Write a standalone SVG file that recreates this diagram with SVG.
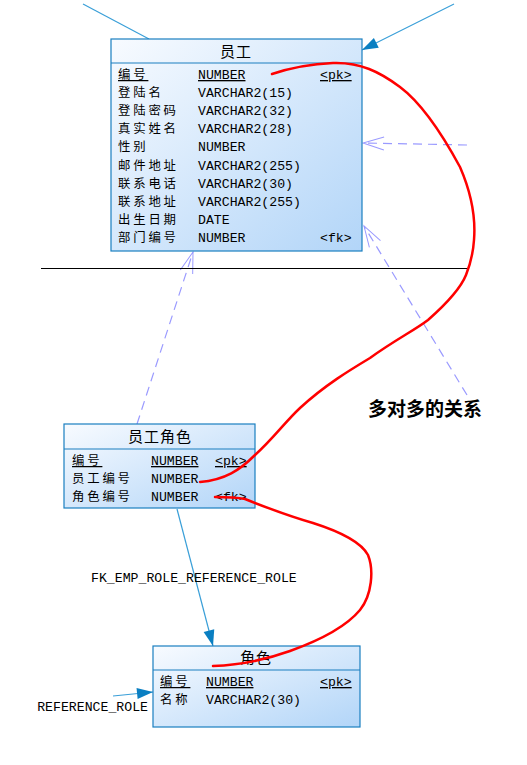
<svg xmlns="http://www.w3.org/2000/svg" width="527" height="765" viewBox="0 0 527 765">
<defs>
<linearGradient id="g" x1="0" y1="0" x2="1" y2="1">
<stop offset="0" stop-color="#f8fbff"/>
<stop offset="1" stop-color="#b2d5f8"/>
</linearGradient>
<marker id="fa" markerUnits="userSpaceOnUse" markerWidth="20" markerHeight="14" refX="16" refY="7" orient="auto" overflow="visible">
<path d="M0,1.5 L16,7 L0,12.5 z" fill="#0a7fc2"/>
</marker>
<marker id="oa" markerUnits="userSpaceOnUse" markerWidth="24" markerHeight="16" refX="21" refY="8" orient="auto" overflow="visible">
<path d="M0,1.5 L21,8 L0,14.5" fill="none" stroke="#9a9aff" stroke-width="1"/>
</marker>
</defs>
<style>
.box{fill:url(#g);stroke:#1a7fc0;stroke-width:1.2}
.hl{stroke:#1a7fc0;stroke-width:1.2}
.cn{font-family:"Noto Sans CJK SC",sans-serif;font-size:12.4px;letter-spacing:2.8px;fill:#000}
.tt{font-family:"Noto Sans CJK SC",sans-serif;font-size:15px;letter-spacing:1px;fill:#000;text-anchor:middle}
.mn{font-family:"Liberation Mono",monospace;font-size:13.2px;fill:#000}
.u{text-decoration:underline}
.sol{stroke:#3a9fd8;stroke-width:1.2;fill:none}
.dsh{stroke:#9a9aff;stroke-width:1.2;fill:none;stroke-dasharray:9 6}
.red{stroke:#f00;stroke-width:2.5;fill:none;stroke-linecap:round}
</style>

<g id="connectors">
<line class="sol" x1="83" y1="4" x2="149" y2="39"/>
<line class="sol" x1="454" y1="4" x2="362" y2="50" marker-end="url(#fa)"/>
<line class="dsh" x1="467" y1="145" x2="363" y2="143" marker-end="url(#oa)"/>
<line class="dsh" x1="467" y1="395" x2="364" y2="226" marker-end="url(#oa)"/>
<line class="dsh" x1="137" y1="424" x2="193" y2="252" marker-end="url(#oa)"/>
<line class="sol" x1="177" y1="509" x2="213" y2="646" marker-end="url(#fa)"/>
<text class="mn" x="91" y="582">FK_EMP_ROLE_REFERENCE_ROLE</text>
<line class="sol" x1="113" y1="696" x2="153" y2="692" marker-end="url(#fa)"/>
<text class="mn" x="148" y="711" text-anchor="end">REFERENCE_ROLE</text>
</g>

<line x1="41" y1="268.5" x2="468" y2="268.5" stroke="#000" stroke-width="1"/>

<g id="emp">
<rect class="box" x="111" y="39" width="251" height="212"/>
<line class="hl" x1="111" y1="63" x2="362" y2="63"/>
<text class="tt" x="236" y="57">员工</text>
<text class="cn u" x="118" y="79">编号</text><text class="mn u" x="198" y="79">NUMBER</text><text class="mn u" x="320" y="79">&lt;pk&gt;</text>
<text class="cn" x="118" y="97">登陆名</text><text class="mn" x="198" y="97">VARCHAR2(15)</text>
<text class="cn" x="118" y="115">登陆密码</text><text class="mn" x="198" y="115">VARCHAR2(32)</text>
<text class="cn" x="118" y="133">真实姓名</text><text class="mn" x="198" y="133">VARCHAR2(28)</text>
<text class="cn" x="118" y="151">性别</text><text class="mn" x="198" y="151">NUMBER</text>
<text class="cn" x="118" y="170">邮件地址</text><text class="mn" x="198" y="170">VARCHAR2(255)</text>
<text class="cn" x="118" y="188">联系电话</text><text class="mn" x="198" y="188">VARCHAR2(30)</text>
<text class="cn" x="118" y="206">联系地址</text><text class="mn" x="198" y="206">VARCHAR2(255)</text>
<text class="cn" x="118" y="224">出生日期</text><text class="mn" x="198" y="224">DATE</text>
<text class="cn" x="118" y="242">部门编号</text><text class="mn" x="198" y="242">NUMBER</text><text class="mn" x="320" y="242">&lt;fk&gt;</text>
</g>

<g id="emprole">
<rect class="box" x="64" y="424" width="191" height="84"/>
<line class="hl" x1="64" y1="449" x2="255" y2="449"/>
<text class="tt" x="160" y="442">员工角色</text>
<text class="cn u" x="72" y="465">编号</text><text class="mn u" x="151" y="465">NUMBER</text><text class="mn u" x="215" y="465">&lt;pk&gt;</text>
<text class="cn" x="72" y="483">员工编号</text><text class="mn" x="151" y="483">NUMBER</text>
<text class="cn" x="72" y="501">角色编号</text><text class="mn" x="151" y="501">NUMBER</text><text class="mn" x="215" y="501">&lt;fk&gt;</text>
</g>

<g id="role">
<rect class="box" x="153" y="646" width="207" height="81"/>
<line class="hl" x1="153" y1="670" x2="360" y2="670"/>
<text class="tt" x="256" y="663">角色</text>
<text class="cn u" x="160" y="686">编号</text><text class="mn u" x="206" y="686">NUMBER</text><text class="mn u" x="320" y="686">&lt;pk&gt;</text>
<text class="cn" x="160" y="704">名称</text><text class="mn" x="206" y="704">VARCHAR2(30)</text>
</g>

<g id="annotation">
<path class="red" d="M272,74 C290,68 310,64 333,63 C360,62 380,72 400,87 C420,102 440,130 460,167 C470,190 476,215 474,240 C473,255 470,265 466,275 C460,290 445,305 428,320 C415,330 395,340 370,358 C350,370 325,385 300,408 C285,422 272,440 255,455 C240,470 225,480 200,482"/>
<path class="red" d="M215,497 C225,497 235,497 245,499 C260,505 285,515 313,523 C335,530 360,540 368,555 C374,570 372,595 360,610 C345,628 315,642 290,651 C265,660 240,665 213,666"/>
<text x="368" y="416" font-family="Noto Sans CJK SC, sans-serif" font-size="19" font-weight="bold" fill="#000">多对多的关系</text>
</g>
</svg>
